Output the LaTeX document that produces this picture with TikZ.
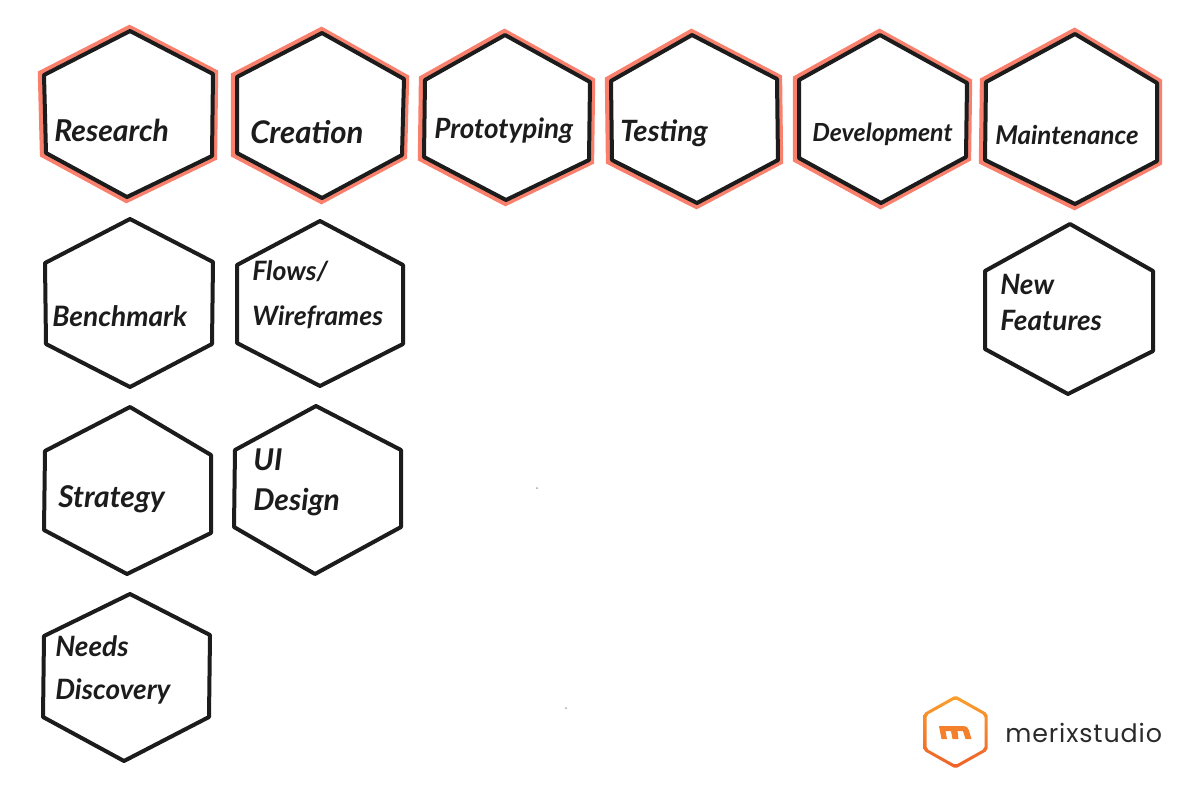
\documentclass[tikz,border=0pt]{standalone}
\usepackage{fontspec}
\setmainfont{Lato}[ItalicFont={Lato Italic},BoldItalicFont={Lato Bold Italic}]
\newfontfamily\logofont{Poppins}[LetterSpace=3.5]
\definecolor{hexred}{HTML}{F9806C}
\definecolor{inkblack}{HTML}{1C1C1C}
\definecolor{logodark}{HTML}{2B2B2B}
\definecolor{logotop}{HTML}{F9A02E}
\definecolor{logobot}{HTML}{F0602A}
\newcommand{\hexpath}[6]{(#1) -- (#2) -- (#3) -- (#4) -- (#5) -- (#6) -- cycle}
\newcommand{\redhex}[6]{\draw[redrim,shift={(-0.5,0)}] \hexpath{#1}{#2}{#3}{#4}{#5}{#6};}
\newcommand{\inkhex}[6]{\filldraw[inkrim] \hexpath{#1}{#2}{#3}{#4}{#5}{#6};}
\newcommand{\handsize}[2]{\fontsize{#1}{#2}\selectfont\bfseries\itshape}
\tikzset{
  x=0.75pt,y=-0.75pt,
  redrim/.style={draw=hexred,line width=8.5pt,line join=miter},
  inkrim/.style={draw=inkblack,fill=white,line width=3pt,line join=round},
  hand/.style={anchor=west,inner sep=0pt,text=inkblack,align=left},
  speck/.style={fill=black!35,draw=none},
}
\begin{document}
\begin{tikzpicture}
\useasboundingbox (0,0) rectangle (1200,800);
\fill[white] (0,0) rectangle (1200,800);
% paper specks
\fill[speck] (537,488) circle (1);
\fill[speck] (566,708) circle (1);
% red rims
\redhex{130,31}{213,74}{212,156}{127,197}{46,153}{44,75}
\redhex{322,33}{404,79}{402,155}{322,198}{237,153}{237,77}
\redhex{505,35}{590,82}{589,160}{506,200}{424,157}{425,80}
\redhex{692,35}{777,79}{778,160}{697,203}{612,160}{611,81}
\redhex{880,35}{967,83}{966,157}{881,203}{799,158}{799,80}
\redhex{1075,34}{1157,83}{1157,161}{1075,204}{985,160}{986,82}
% black outlines
\inkhex{130,31}{213,74}{212,156}{127,197}{46,153}{44,75}
\inkhex{322,33}{404,79}{402,155}{322,198}{237,153}{237,77}
\inkhex{505,35}{590,82}{589,160}{506,200}{424,157}{425,80}
\inkhex{692,35}{777,79}{778,160}{697,203}{612,160}{611,81}
\inkhex{880,35}{967,83}{966,157}{881,203}{799,158}{799,80}
\inkhex{1075,34}{1157,83}{1157,161}{1075,204}{985,160}{986,82}
\inkhex{130,219}{213,262}{212,344}{130,387}{46,344}{45,263}
\inkhex{320,221}{403,265}{403,344}{320,386}{237,343}{237,265}
\inkhex{130,407}{211,455}{211,533}{127,574}{44,530}{45,451}
\inkhex{316,406}{401,450}{401,527}{315,574}{234,527}{235,450}
\inkhex{130,594}{210,635}{209,717}{124,761}{43,717}{44,636}
\inkhex{1070,224}{1153,271}{1153,351}{1068,394}{985,349}{985,271}
% labels
\node[hand,font=\handsize{22.6}{24}] (research) at (54,130) {Research};
\node[hand,font=\handsize{23.4}{24}] (creation) at (250,132) {Creation};
\node[hand,font=\handsize{20.9}{24}] (proto) at (434,131) {Prototyping};
\node[hand,font=\handsize{22}{24}] (testing) at (620,133) {Testing};
\node[hand,font=\handsize{18.7}{24}] (devel) at (812,134) {Development};
\node[hand,font=\handsize{19.4}{24}] (maint) at (995,135) {Maintenance};
\node[hand,font=\handsize{21.1}{24}] (bench) at (52,316) {Benchmark};
\node[hand,font=\handsize{20}{34}] (flows) at (252,295) {Flows/\\Wireframes};
\node[hand,font=\handsize{22.5}{24}] (strategy) at (58,499) {Strategy};
\node[hand,font=\handsize{22.5}{30}] (uidesign) at (253,482) {UI\\Design};
\node[hand,font=\handsize{21}{32}] (needs) at (55,670) {Needs\\Discovery};
\node[hand,font=\handsize{21}{27}] (newfeat) at (1000,302) {New\\Features};
% logo
\shade[top color=logotop,bottom color=logobot,even odd rule,rounded corners=1.5pt]
  (955.5,695.5) -- (987.5,713.5) -- (987.5,750.5) -- (955.5,768.5) -- (923.5,750.5) -- (923.5,713.5) -- cycle
  (955.5,699) -- (984.5,715.2) -- (984.5,748.8) -- (955.5,765) -- (926.5,748.8) -- (926.5,715.2) -- cycle;
\fill[logotop!50!logobot]
  (939,726) -- (963.5,726) .. controls (966.5,726) and (968,727.5) .. (968.8,730) -- (971.5,739) -- (965.5,739) -- (963,731) -- (957.5,731) -- (958.5,739) -- (952.5,739) -- (951,731) -- (945.5,731) -- (947,739) -- (941.5,739) -- cycle;
\node[anchor=west,inner sep=0pt,text=logodark,font=\logofont\fontsize{19}{20}\selectfont] (logo) at (1005,733) {merixstudio};
\end{tikzpicture}
\end{document}
